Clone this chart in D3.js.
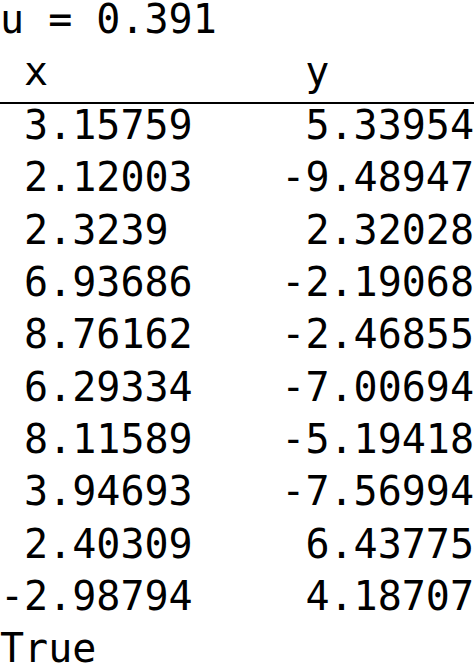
<!DOCTYPE html>
<html><head><meta charset="utf-8">
<script src="https://cdn.jsdelivr.net/npm/d3@7"></script>
<style>body{margin:0;background:#fff}text{font-family:"DejaVu Sans Mono",monospace;font-size:40px;fill:#000}</style>
</head><body>
<script>
const title = "u = 0.391";
const headers = ["x","y"];
const xs = ["3.15759","2.12003","2.3239","6.93686","8.76162","6.29334","8.11589","3.94693","2.40309","-2.98794"];
const ys = ["5.33954","-9.48947","2.32028","-2.19068","-2.46855","-7.00694","-5.19418","-7.56994","6.43775","4.18707"];
const footer = "True";

const W = 474, H = 671, cw = 24.1;
const svg = d3.select("body").append("svg").attr("width",W).attr("height",H);
const row = d3.scaleLinear().domain([0, xs.length-1]).range([139, 610]);

svg.append("text").attr("x",0).attr("y",33).attr("xml:space","preserve").text(title);
svg.append("text").attr("x",cw).attr("y",85).text(headers[0]);
svg.append("text").attr("x",W-7*cw).attr("y",85).text(headers[1]);
svg.append("line").attr("x1",0).attr("x2",W).attr("y1",103).attr("y2",103).attr("stroke","#000").attr("stroke-width",2);

svg.selectAll("text.xv").data(xs).join("text").attr("class","xv")
  .attr("x", d => d.startsWith("-") ? 0 : cw).attr("y",(d,i)=>row(i)).text(d=>d);
svg.selectAll("text.yv").data(ys).join("text").attr("class","yv")
  .attr("x", W).attr("text-anchor","end").attr("y",(d,i)=>row(i)).text(d=>d);
svg.append("text").attr("x",0).attr("y",662).text(footer);
</script>
</body></html>
